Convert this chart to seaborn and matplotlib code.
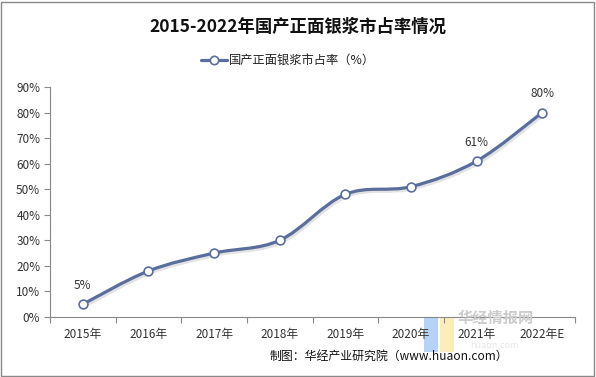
import numpy as np
import pandas as pd
import matplotlib
matplotlib.use("Agg")
import matplotlib.pyplot as plt
import seaborn as sns
from matplotlib.path import Path
from matplotlib.patches import PathPatch, Rectangle
import matplotlib.patheffects as pe

years = ["2015年", "2016年", "2017年", "2018年", "2019年", "2020年", "2021年", "2022年E"]
share = [5, 18, 25, 30, 48, 51, 61, 80]
labeled = {0: "5%", 6: "61%", 7: "80%"}
yticks = [0, 10, 20, 30, 40, 50, 60, 70, 80, 90]
title = "2015-2022年国产正面银浆市占率情况"
series_name = "国产正面银浆市占率（%）"
source = "制图：华经产业研究院（www.huaon.com）"

sns.set_theme(style="white")
plt.rcParams['font.family'] = ['Noto Sans CJK SC', 'DejaVu Sans']

color = "#5A6E9E"
df = pd.DataFrame({"x": np.arange(len(years)), "y": share})

fig = plt.figure(figsize=(5.96, 3.77), dpi=100)
ax = fig.add_axes([50/596, 60/377, 525/596, 230/377])

# smooth (Catmull-Rom -> Bezier) line through the data points
xs = df["x"].to_numpy(float)
ys = df["y"].to_numpy(float)
verts = [(xs[0], ys[0])]
codes = [Path.MOVETO]
n = len(xs)
t = 1/6
for i in range(n - 1):
    p0 = (xs[max(i-1, 0)], ys[max(i-1, 0)])
    p1 = (xs[i], ys[i])
    p2 = (xs[i+1], ys[i+1])
    p3 = (xs[min(i+2, n-1)], ys[min(i+2, n-1)])
    c1 = (p1[0] + (p2[0]-p0[0])*t, p1[1] + (p2[1]-p0[1])*t)
    c2 = (p2[0] - (p3[0]-p1[0])*t, p2[1] - (p3[1]-p1[1])*t)
    verts += [c1, c2, p2]
    codes += [Path.CURVE4]*3
patch = PathPatch(Path(verts, codes), facecolor="none", edgecolor=color, lw=2.3,
                  path_effects=[pe.SimpleLineShadow(offset=(1.2, -1.5), shadow_color="gray", alpha=0.22), pe.Normal()],
                  zorder=3)
ax.add_patch(patch)

sns.scatterplot(data=df, x="x", y="y", ax=ax, s=40, color="white", edgecolor=color,
                linewidth=1.2, zorder=4, legend=False)

for i, lab in labeled.items():
    ax.annotate(lab, (xs[i], ys[i]), xytext=(0, 9), textcoords="offset points",
                ha="center", va="bottom", fontsize=8.5, color="#333333")

ax.set_xlim(-0.5, len(years) - 0.5)
ax.set_ylim(0, 90)
ax.set_yticks(yticks)
ax.set_yticklabels([f"{v}%" for v in yticks], fontsize=8.5, color="#333333")
ax.set_xticks(np.arange(len(years)))
ax.set_xticklabels(years, fontsize=8.5, color="#333333")
ax.set_xticks(np.arange(len(years) + 1) - 0.5, minor=True)
ax.tick_params(axis="x", which="major", length=0, pad=8)
ax.tick_params(axis="x", which="minor", length=4, color="#888888", width=0.8, bottom=True)
ax.tick_params(axis="y", length=4, color="#888888", width=0.8, left=True, pad=3)
for s in ["top", "right"]:
    ax.spines[s].set_visible(False)
for s in ["left", "bottom"]:
    ax.spines[s].set_color("#888888")
    ax.spines[s].set_linewidth(0.8)
ax.set_xlabel("")
ax.set_ylabel("")
ax.grid(False)

# title
fig.text(0.5, 1 - 27/377, title, ha="center", va="center", fontsize=12.5, fontweight="bold", color="#111111")

# legend
ly = 1 - 60/377
lx0, lx1 = 201/596, 227/596
fig.add_artist(plt.Line2D([lx0, lx1], [ly, ly], color=color, lw=2.3, transform=fig.transFigure))
fig.add_artist(plt.Line2D([(lx0+lx1)/2], [ly], marker="o", ms=6, mfc="white", mec=color, mew=1.2,
                          transform=fig.transFigure))
fig.text(229/596, ly, series_name, ha="left", va="center", fontsize=8.8, color="#222222")

# watermark
fig.add_artist(Rectangle((424/596, 1-352/377), 14/596, 34/377, transform=fig.transFigure,
                         facecolor="#9EC3F5", edgecolor="none", alpha=0.75, zorder=0))
fig.add_artist(Rectangle((440/596, 1-352/377), 14/596, 34/377, transform=fig.transFigure,
                         facecolor="#FBE9A6", edgecolor="none", alpha=0.75, zorder=0))
fig.text(458/596, 1-318/377, "华经情报网", fontsize=11, color="#CCCCCC", fontweight="bold",
         ha="left", va="center", zorder=0)
fig.text(470/596, 1-346/377, "huaon.com", fontsize=6.5, color="#E6E6E6", ha="left", va="center", zorder=0)

# source
fig.text(508/596, 1-356/377, source, ha="right", va="center", fontsize=8.6, color="#111111")

# outer frame
fig.add_artist(Rectangle((1/596, 1/377), 593/596, 374/377, transform=fig.transFigure,
                         facecolor="none", edgecolor="#888888", lw=1))

fig.savefig("out.png", dpi=100)
